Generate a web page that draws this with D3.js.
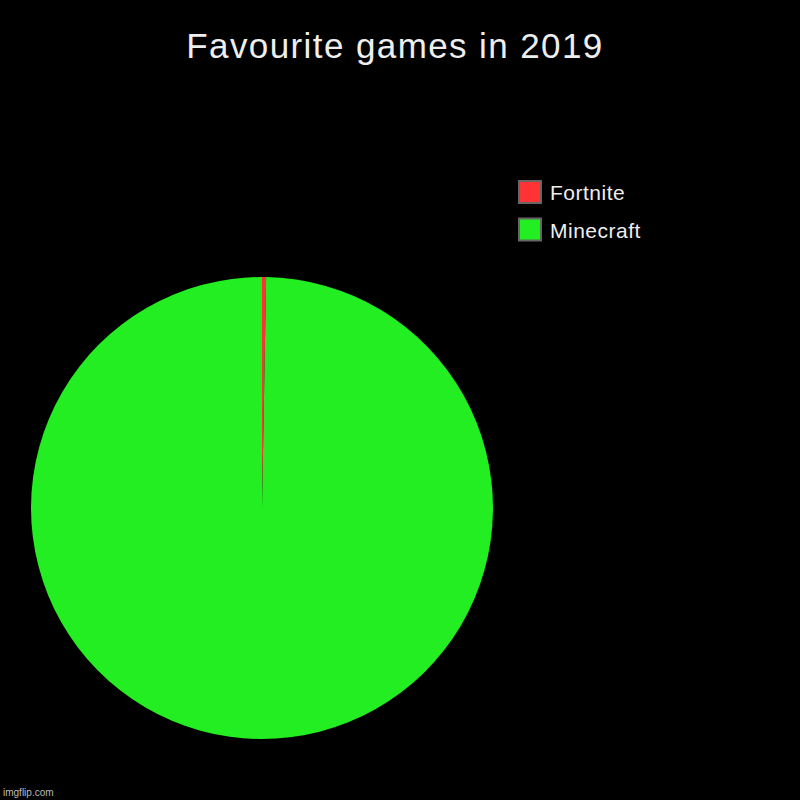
<!DOCTYPE html>
<html lang="en">
<head>
<meta charset="utf-8">
<title>Favourite games in 2019</title>
<script src="https://cdn.jsdelivr.net/npm/d3@7"></script>
<style>
  body { margin: 0; background: #000; }
  svg text { font-family: "Liberation Sans", Arial, sans-serif; fill: #eeeeee; }
</style>
</head>
<body>
<svg width="800" height="800"></svg>
<script>
// data
var games = ["Fortnite", "Minecraft"];
var votes = [1, 350];
var colors = ["#ff3333", "#22ee22"];

var svg = d3.select("svg");
svg.append("rect").attr("width", 800).attr("height", 800).attr("fill", "#000");

svg.append("text")
  .attr("x", 395).attr("y", 58)
  .attr("text-anchor", "middle")
  .style("font-size", "35px")
  .style("letter-spacing", "1.4px")
  .text("Favourite games in 2019");

var color = d3.scaleOrdinal().domain(games).range(colors);
var data = games.map(function(g, i) { return { name: g, value: votes[i] }; });

var pie = d3.pie().sort(null).value(function(d) { return d.value; });
var arc = d3.arc().innerRadius(0).outerRadius(231);

var g = svg.append("g").attr("transform", "translate(262,508)");
g.selectAll("path")
  .data(pie(data))
  .enter()
  .append("path")
  .attr("d", arc)
  .attr("fill", function(d) { return color(d.data.name); });

// legend
var legend = svg.append("g").attr("transform", "translate(519,181)");
var item = legend.selectAll("g")
  .data(games)
  .enter()
  .append("g")
  .attr("transform", function(d, i) { return "translate(0," + (i * 37.5) + ")"; });

item.append("rect")
  .attr("width", 22).attr("height", 22)
  .attr("fill", function(d) { return color(d); })
  .attr("stroke", "#666")
  .attr("stroke-width", 2);

item.append("text")
  .attr("x", 31).attr("y", 19)
  .style("font-size", "21px")
  .style("letter-spacing", "0.5px")
  .text(function(d) { return d; });

svg.append("text")
  .attr("x", 3).attr("y", 796)
  .style("font-size", "10px")
  .style("fill", "#bbbbbb")
  .text("imgflip.com");
</script>
</body>
</html>
